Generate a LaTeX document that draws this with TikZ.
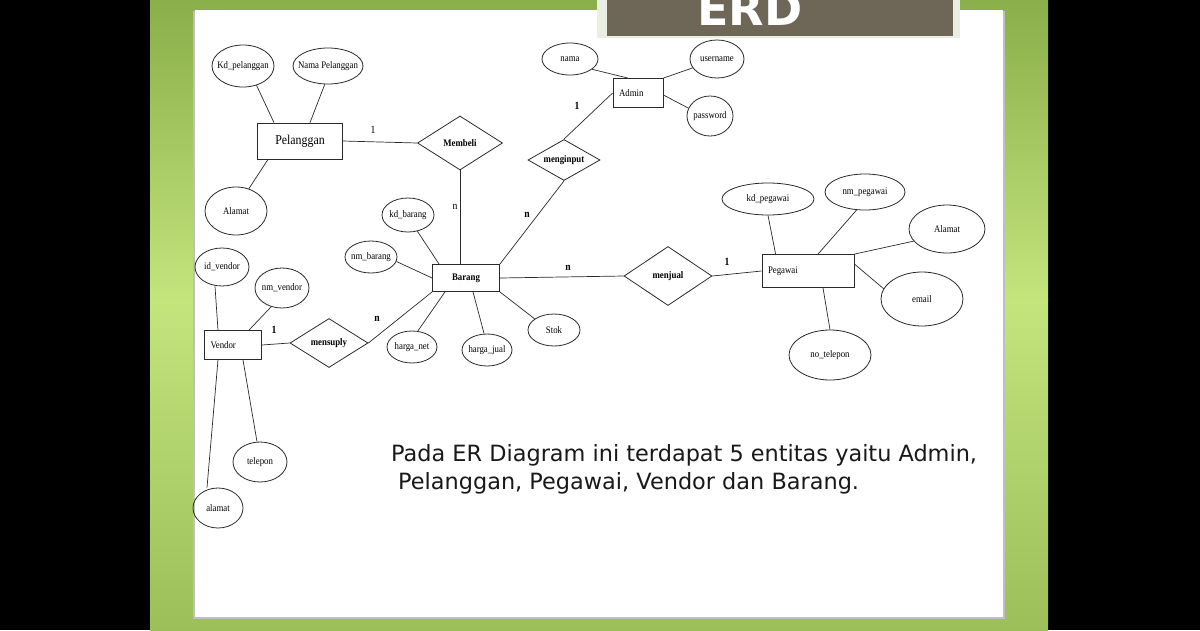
\documentclass[tikz,border=0pt]{standalone}
\usepackage{fontspec}
\setmainfont{Liberation Serif}
\newfontfamily\erf[FakeStretch=0.88]{Liberation Serif}
\newfontfamily\dvs{DejaVu Sans}
\usetikzlibrary{shapes.geometric,calc}
\definecolor{gtop}{HTML}{8AAE4A}
\definecolor{gmid}{HTML}{C4E47C}
\definecolor{gbot}{HTML}{9CBF5A}
\definecolor{titlefill}{HTML}{6E6656}
\definecolor{titleframe}{HTML}{E9EFE2}
\definecolor{lncol}{HTML}{2A2A2A}
\newcommand\zz[1]{\makebox[0pt]{#1}}
\tikzset{
  ln/.style={line width=0.7pt, draw=lncol},
  ent/.style={draw=lncol, line width=0.8pt, rectangle, inner sep=0pt, font=\erf\fontsize{10}{12}\selectfont},
  attr/.style={draw=lncol, line width=0.8pt, ellipse, inner sep=0pt, font=\erf\fontsize{10}{12}\selectfont},
  rel/.style={draw=lncol, line width=0.8pt, diamond, inner sep=0pt, font=\erf\bfseries\fontsize{10}{12}\selectfont},
  card/.style={inner sep=0pt, font=\erf\bfseries\fontsize{11}{12}\selectfont},
  cardn/.style={inner sep=0pt, font=\erf\fontsize{11}{12}\selectfont},
}
\begin{document}
\begin{tikzpicture}[x=1pt,y=-1pt]
\useasboundingbox (0,0) rectangle (1200,630);
% background
\fill[black] (0,0) rectangle (150,630);
\fill[black] (1048,0) rectangle (1200,630);
\shade[top color=gtop, bottom color=gmid] (150,0) rectangle (1048,300);
\shade[top color=gmid, bottom color=gbot] (150,300) rectangle (1048,630);
% white panel
\fill[black!25] (193,11) rectangle (1005,619);
\fill[white] (195,10) rectangle (1003,617);
% title
\fill[titleframe] (597,0) rectangle (960,38);
\fill[titlefill] (607,0) rectangle (953,36);
\node[anchor=base, inner sep=0pt, text=white, font=\dvs\bfseries\fontsize{46}{50}\selectfont] (title) at (750,25) {ERD};

% entities
\node[ent, minimum width=85pt, minimum height=36pt, font=\erf\fontsize{13.5}{15}\selectfont] (pel) at (300,141) {Pelanggan};
\node[ent, minimum width=50pt, minimum height=29pt, text width=38pt, inner xsep=6pt, align=left] (adm) at (638,93) {Admin};
\node[ent, minimum width=67pt, minimum height=27pt, font=\erf\bfseries\fontsize{10}{12}\selectfont] (bar) at (466,278) {\zz{Barang}};
\node[ent, minimum width=57pt, minimum height=29pt, text width=45pt, inner xsep=6pt, align=left] (ven) at (233,345) {Vendor};
\node[ent, minimum width=92pt, minimum height=33pt, text width=80pt, inner xsep=6pt, align=left] (peg) at (808,271) {Pegawai};

% relationships
\node[rel, minimum width=85pt, minimum height=54pt] (mem) at (460,143) {\zz{Membeli}};
\node[rel, minimum width=72pt, minimum height=41pt] (min) at (564,160) {\zz{menginput}};
\node[rel, minimum width=78pt, minimum height=49pt] (msp) at (329,343) {\zz{mensuply}};
\node[rel, minimum width=88pt, minimum height=59pt] (mjl) at (668,276) {\zz{menjual}};

% attributes
\node[attr, minimum width=62pt, minimum height=42pt] (kdp) at (243,66) {\zz{Kd\_pelanggan}};
\node[attr, minimum width=70pt, minimum height=36pt] (nmp) at (328,66) {\zz{Nama Pelanggan}};
\node[attr, minimum width=62pt, minimum height=48pt] (alp) at (236,211) {\zz{Alamat}};
\node[attr, minimum width=56pt, minimum height=32pt] (nama) at (570,59) {\zz{nama}};
\node[attr, minimum width=54pt, minimum height=38pt] (usern) at (717,59) {\zz{username}};
\node[attr, minimum width=46pt, minimum height=40pt] (passw) at (710,116) {\zz{password}};
\node[attr, minimum width=52pt, minimum height=34pt] (kdb) at (408,215) {\zz{kd\_barang}};
\node[attr, minimum width=52pt, minimum height=32pt] (nmb) at (371,257) {\zz{nm\_barang}};
\node[attr, minimum width=50pt, minimum height=32pt] (hnet) at (412,347) {\zz{harga\_net}};
\node[attr, minimum width=50pt, minimum height=32pt] (hjual) at (487,350) {\zz{harga\_jual}};
\node[attr, minimum width=52pt, minimum height=32pt] (stok) at (554,330) {\zz{Stok}};
\node[attr, minimum width=54pt, minimum height=38pt] (idv) at (222,267) {\zz{id\_vendor}};
\node[attr, minimum width=54pt, minimum height=40pt] (nmv) at (282,288) {\zz{nm\_vendor}};
\node[attr, minimum width=54pt, minimum height=40pt] (tel) at (260,462) {\zz{telepon}};
\node[attr, minimum width=50pt, minimum height=40pt] (alv) at (218,508) {\zz{alamat}};
\node[attr, minimum width=92pt, minimum height=32pt] (kdpg) at (768,199) {\zz{kd\_pegawai}};
\node[attr, minimum width=80pt, minimum height=36pt] (nmpg) at (865,192) {\zz{nm\_pegawai}};
\node[attr, minimum width=76pt, minimum height=48pt] (alpg) at (947,229) {\zz{Alamat}};
\node[attr, minimum width=82pt, minimum height=54pt] (email) at (922,299) {\zz{email}};
\node[attr, minimum width=82pt, minimum height=50pt] (notel) at (830,355) {\zz{no\_telepon}};

% connectors
\draw[ln] (kdp.-55) -- ([xshift=-26pt]pel.north);
\draw[ln] (nmp.-100) -- ([xshift=10pt]pel.north);
\draw[ln] ([xshift=-32pt]pel.south) -- (alp.60);
\draw[ln] (pel.east) -- (mem.west);
\draw[ln] (mem.south) -- (mem.south |- bar.north);
\draw[ln] (adm.west) -- (min.north);
\draw[ln] (nama.-25) -- ([xshift=-10pt]adm.north);
\draw[ln] (usern.200) -- (adm.north east);
\draw[ln] (passw.160) -- ([yshift=-2pt]adm.east);
\draw[ln] (min.south) -- (bar.north east);
\draw[ln] (kdb.-60) -- ([xshift=7pt]bar.north west);
\draw[ln] (nmb.-10) -- (bar.west);
\draw[ln] ([xshift=-21pt]bar.south) -- (hnet.70);
\draw[ln] ([xshift=7pt]bar.south) -- (hjual.100);
\draw[ln] (bar.south east) -- (stok.150);
\draw[ln] (bar.east) -- (mjl.west);
\draw[ln] (mjl.east) -- (peg.west);
\draw[ln] (msp.east) -- (bar.south west);
\draw[ln] (ven.east) -- (msp.west);
\draw[ln] ([xshift=-7pt]idv.south) -- ([xshift=-15pt]ven.north);
\draw[ln] (nmv.-120) -- ([xshift=16pt]ven.north);
\draw[ln] ([xshift=-15pt]ven.south) -- ([xshift=-11pt]alv.north);
\draw[ln] ([xshift=10pt]ven.south) -- ([xshift=-3pt]tel.north);
\draw[ln] (kdpg.south) -- ([xshift=14pt]peg.north west);
\draw[ln] (nmpg.-115) -- ([xshift=10pt]peg.north);
\draw[ln] (alpg.200) -- (peg.north east);
\draw[ln] (email.165) -- ([yshift=7pt]peg.east);
\draw[ln] (notel.north) -- ([xshift=15pt]peg.south);

% cardinalities
\node[cardn] (c1) at (373,130) {1};
\node[cardn] (c2) at (455,207) {n};
\node[card] (c3) at (577,106) {1};
\node[card] (c4) at (527,215) {n};
\node[card] (c5) at (377,319) {n};
\node[card] (c6) at (274,330) {1};
\node[card] (c7) at (568,268) {n};
\node[card] (c8) at (727,262) {1};

% paragraph
\node[anchor=base west, inner sep=0pt, text=black!90, font=\dvs\fontsize{22.4}{28}\selectfont] (para1) at (391,461) {Pada ER Diagram ini terdapat 5 entitas yaitu Admin,};
\node[anchor=base west, inner sep=0pt, text=black!90, font=\dvs\fontsize{22.4}{28}\selectfont] (para2) at (398,489) {Pelanggan, Pegawai, Vendor dan Barang.};
\end{tikzpicture}
\end{document}
